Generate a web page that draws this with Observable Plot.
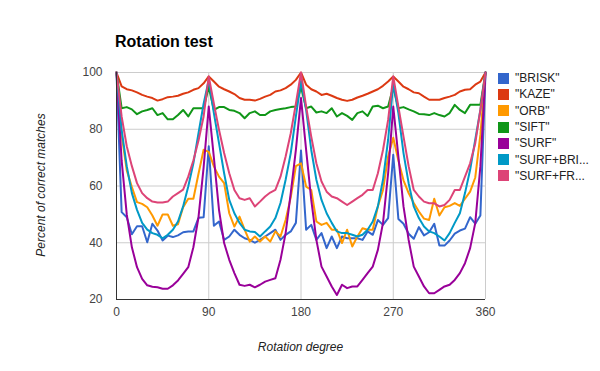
<!DOCTYPE html>
<html>
<head>
<meta charset="utf-8">
<script src="https://cdn.jsdelivr.net/npm/d3@7"></script>
<script src="https://cdn.jsdelivr.net/npm/@observablehq/plot@0.6"></script>
<style>
  html, body { margin: 0; padding: 0; background: #fff; }
  #chart { position: relative; width: 600px; height: 371px; font-family: Arial, "Liberation Sans", sans-serif; }
  #chart svg { position: absolute; left: 0; top: 0; }
  .title { position: absolute; left: 115px; top: 33px; font-size: 16px; font-weight: bold; color: #000; white-space: nowrap; }
  .xtitle { position: absolute; left: 116px; width: 369px; top: 340px; text-align: center; font-size: 12px; font-style: italic; color: #222; }
  .ytitle { position: absolute; left: 41px; top: 185px; font-size: 12px; font-style: italic; color: #222; white-space: nowrap; transform: translate(-50%, -50%) rotate(-90deg); }
  .legend { position: absolute; left: 498px; top: 70px; font-size: 12px; color: #222; }
  .legend .row { height: 16.3px; display: flex; align-items: center; white-space: nowrap; }
  .legend .sw { width: 11px; height: 11px; margin-right: 6px; flex: none; }
</style>
</head>
<body>
<div id="chart"></div>
<script>
// Rotation angles (degrees)
const degrees = [0,5,10,15,20,25,30,35,40,45,50,55,60,65,70,75,80,85,90,
  95,100,105,110,115,120,125,130,135,140,145,150,155,160,165,170,175,180,
  185,190,195,200,205,210,215,220,225,230,235,240,245,250,255,260,265,270,
  275,280,285,290,295,300,305,310,315,320,325,330,335,340,345,350,355,360];

const brisk = [100,50.8,49,43,45.8,45.8,40.2,46.7,44.3,40.8,42.5,42,42.6,43.7,44,44,48.8,49,74,
  46,47.5,41,42.2,44.6,42.8,41.6,41,40,41,42.2,43.4,44.6,41,42.8,44,47,72.5,
  44.6,46.3,41,43.4,38.1,42.2,38.1,42.2,41.6,41.6,41.6,41,44,42.8,48,46.3,48.7,71,
  48.4,46.7,43.2,41.4,45.5,42.6,43.7,46.7,39,39,40.8,43.2,44.3,45,49,46.7,49.6,100];

const kaze = [100,95.1,94.1,93.7,93,92.1,91.5,91,90.1,90.6,91.3,91.5,91.8,92.5,93,93.9,94.5,96.2,98.6,
  96.8,95,94.1,93.3,92.4,91,90.4,90.4,90.1,90.7,91.5,92.1,93.3,93.7,94.5,95.7,97.4,100,
  95.7,94.1,93.3,92.1,92.5,91.8,91,90.4,90,90.4,91.2,91.8,92.5,93.3,94.1,95.3,96.8,98.6,
  96.8,95,94.1,93,92.7,91.5,90.4,90.4,90.4,91,91.5,92.1,93.3,93.9,94.1,95.7,96.8,100];

const orb = [100,78,65.5,59.6,54.3,53.7,52.5,49.6,46,50,50,46,46.5,52.5,55.5,55.5,64.3,72.8,72,
  66.9,63.3,61,50.4,45.7,49.2,44.6,40.4,42.2,40.4,42.2,40.4,44,42.2,48,56,67,68,
  59.8,58.6,47.5,46.3,47,44.6,44.6,39.9,44.6,38.7,42.2,45.1,44.6,44.6,52.8,58.6,70.4,77,
  69,62,57.5,54,51,48.5,48,55.5,49.6,52.5,53,54,53,55.5,58,63,78,100];

const sift = [100,87.4,87.8,87,85.3,86.3,86.8,87.4,85,85.7,83.5,83.5,85,86.8,84.5,87.4,87.4,87.4,95,
  86.8,87.8,87.8,86.8,86.5,85.7,83.9,85.7,86.3,85,85,86.3,86.8,87.1,87.4,87.8,88,95,
  87.4,88,85.9,86.3,85.7,87.4,84.5,85.7,84.7,83.3,85.7,86.3,84.7,88,88.3,87.4,88,95,
  87.4,87.8,87,86.3,85.4,85.3,85,85.7,85,84.5,85.7,88.6,86.8,85.7,88.6,88.6,88.6,100];

const surf = [100,69,50,38.4,31.4,27.3,25,24.5,24.3,23.8,23.8,25,26.7,29,31.4,38.4,49,66.6,88,
  70,51.6,39.9,34,29.3,25.2,24.8,25.2,24.3,25.2,26.3,26.9,27.5,34,43.4,57.5,72.7,91,
  72.7,55.1,41,31.6,28.1,24.6,21.6,25.2,24,24.6,24.6,26.9,29.3,31.6,37.5,47,64.5,88,
  70.4,52.8,41,31.6,28.1,24.6,22.2,22.2,23.4,24.6,25.2,26.9,29.3,32.8,38.1,46.9,66.9,100];

const surfBrisk = [100,79.8,67,57.5,51.6,47,44.6,43.4,42.8,41.6,42.8,44.6,47.5,52.8,59.8,68,78.6,89,97.4,
  85.7,75.1,64.5,55.1,50.4,47,44.6,44,43.8,42.2,44,45.7,48.7,54,62.2,71.6,84.5,97,
  86.8,72.7,62.2,55.1,50.4,47,44,43.4,43.4,42.8,42.2,42.8,44.6,47.5,52.8,62.2,76.3,96.2,
  85.7,71.6,61,52.8,48.7,45.7,44,43.4,42.2,40.8,43.4,47,50.4,57.5,65.7,76.3,86.8,100];

const surfFreak = [100,84.5,74,67,61,57.5,55.7,54.5,54.2,54.2,54.5,56.3,57.5,58.7,63.3,69,76,84.5,98.6,
  89,79.8,71.6,64.5,58.6,55.7,55.1,55.7,52.8,54.5,56.3,57.7,58.6,63.3,70.4,78.6,89,100,
  88,77.4,68,61.6,58,56.3,55.7,54.5,53.3,54.5,55.7,56.9,58.6,58.6,64.5,72.7,83.3,98.6,
  88,77.4,67,58.6,56.3,54.5,53.9,53.9,52.8,53.3,55.1,58.6,58.6,63.3,68,75.1,86.8,100];

const seriesNames = ['"BRISK"', '"KAZE"', '"ORB"', '"SIFT"', '"SURF"', '"SURF+BRISK"', '"SURF+FREAK"'];
const legendLabels = ['"BRISK"', '"KAZE"', '"ORB"', '"SIFT"', '"SURF"', '"SURF+BRI...', '"SURF+FR...'];
const seriesValues = [brisk, kaze, orb, sift, surf, surfBrisk, surfFreak];
const colors = ["#3366cc", "#dc3912", "#ff9900", "#109618", "#990099", "#0099c6", "#dd4477"];
const xTicks = [0, 90, 180, 270, 360];
const yTicks = [20, 40, 60, 80, 100];

const data = seriesNames.flatMap((name, s) =>
  degrees.map((d, i) => ({deg: d, value: seriesValues[s][i], series: name})));

const chart = Plot.plot({
  width: 600,
  height: 371,
  marginLeft: 116,
  marginRight: 115,
  marginTop: 72,
  marginBottom: 72,
  style: {fontFamily: 'Arial, "Liberation Sans", sans-serif', fontSize: "12px", color: "#444", background: "white"},
  x: {domain: [0, 360], ticks: xTicks, tickSize: 0, tickPadding: 8, label: null},
  y: {domain: [20, 100], ticks: yTicks, tickSize: 0, tickPadding: 14, label: null},
  color: {domain: seriesNames, range: colors},
  marks: [
    Plot.ruleX(xTicks.slice(1), {stroke: "#cccccc", strokeWidth: 1}),
    Plot.ruleY(yTicks.slice(1), {stroke: "#cccccc", strokeWidth: 1}),
    Plot.line(data, {x: "deg", y: "value", z: "series", stroke: "series", strokeWidth: 2, strokeLinejoin: "round"}),
    Plot.ruleX([0], {stroke: "#333333", strokeWidth: 1}),
    Plot.ruleY([20], {stroke: "#333333", strokeWidth: 1})
  ]
});

const root = document.getElementById("chart");
root.appendChild(chart);

const title = document.createElement("div");
title.className = "title";
title.textContent = "Rotation test";
root.appendChild(title);

const xt = document.createElement("div");
xt.className = "xtitle";
xt.textContent = "Rotation degree";
root.appendChild(xt);

const yt = document.createElement("div");
yt.className = "ytitle";
yt.textContent = "Percent of correct matches";
root.appendChild(yt);

const legend = document.createElement("div");
legend.className = "legend";
legendLabels.forEach((lab, i) => {
  const row = document.createElement("div");
  row.className = "row";
  const sw = document.createElement("span");
  sw.className = "sw";
  sw.style.background = colors[i];
  const tx = document.createElement("span");
  tx.textContent = lab;
  row.appendChild(sw);
  row.appendChild(tx);
  legend.appendChild(row);
});
root.appendChild(legend);
</script>
</body>
</html>
